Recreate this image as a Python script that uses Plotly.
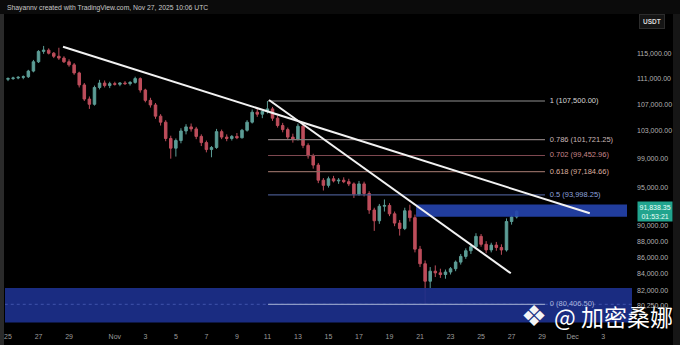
import math
import pandas as pd
import plotly.graph_objects as go

# ---------------- data (8-hour BTC/USDT candles from 2025-10-25 00:00 UTC) ----------------
candle_start = "2025-10-25 00:00"
opens = [
    110900, 111000, 111100, 111200, 111300, 112200, 113700, 115400, 115600,
    115100, 114600, 114300, 113700, 113200, 111900, 110000, 107800, 107000,
    109600, 110300, 109900, 110200, 110100, 110300, 110200, 110400, 111000,
    109200, 107600, 106900, 105200, 104300, 101900, 100500, 101600, 103000,
    103600, 103300, 102200, 101300, 100300, 100600, 102900, 102100, 101900,
    102200, 102000, 103100, 104300, 105800, 105500, 105900, 106300, 104900,
    103800, 103200, 102100, 101800, 103700, 100900, 99400, 98100, 96000,
    95300, 96200, 95900, 96000, 95800, 95500, 94100, 95500, 94200,
    92000, 90600, 92500, 92600, 91500, 90300, 89600, 91900, 91000,
    87000, 85200, 83100, 84300, 84100, 83900, 84200, 84600, 85400,
    86100, 86800, 87300, 88600, 87600, 86900, 87500, 87200, 86900,
    90500, 91100]
highs = [
    111200, 111300, 111400, 111500, 112400, 114000, 115600, 116300, 115900,
    115300, 116000, 114600, 114100, 113500, 112100, 110300, 108200, 109900,
    110800, 110700, 110500, 110500, 110400, 110600, 110600, 111300, 111200,
    109400, 108000, 107200, 105500, 104600, 102300, 101900, 103400, 104000,
    104100, 103600, 102500, 101600, 100800, 103300, 103200, 102500, 102400,
    102700, 103300, 104600, 106200, 106300, 106000, 107500, 106600, 105300,
    104200, 103500, 102600, 104100, 104000, 101200, 99700, 98400, 96300,
    96500, 96600, 96300, 96400, 96200, 95700, 95900, 95800, 94500,
    92300, 92800, 93400, 92900, 91800, 90700, 92300, 92700, 91400,
    87400, 85600, 84800, 85000, 84600, 84500, 84800, 85600, 86400,
    87100, 87700, 89000, 88900, 88000, 87800, 87900, 87600, 90900,
    91300, 91950]
lows = [
    110600, 110800, 110900, 110900, 111100, 112000, 113500, 115000, 114900,
    114300, 114000, 113500, 112900, 111600, 109600, 107500, 106300, 106800,
    109300, 109600, 109500, 109900, 109800, 110000, 109900, 110200, 108800,
    107300, 106500, 104800, 103800, 101500, 99000, 99300, 101200, 102500,
    102900, 101800, 100800, 99900, 99200, 100400, 101800, 101500, 101600,
    101800, 101900, 102900, 104100, 105100, 104900, 105600, 104500, 103500,
    102800, 101700, 101300, 101600, 100500, 99000, 97600, 95600, 94600,
    95000, 95700, 95500, 95600, 95200, 93600, 93900, 93800, 91500,
    89300, 90200, 91800, 91200, 89900, 88700, 89400, 90500, 86600,
    84800, 80450, 82300, 83600, 83500, 83400, 83900, 84300, 85100,
    85800, 86400, 87000, 87300, 86500, 86600, 86800, 86300, 86700,
    90100, 90900]
closes = [
    111000, 111100, 111200, 111300, 112200, 113700, 115400, 115600, 115100,
    114600, 114300, 113700, 113200, 111900, 110000, 107800, 107000, 109600,
    110300, 109900, 110200, 110100, 110300, 110200, 110400, 111000, 109200,
    107600, 106900, 105200, 104300, 101900, 100500, 101600, 103000, 103600,
    103300, 102200, 101300, 100300, 100600, 102900, 102100, 101900, 102200,
    102000, 103100, 104300, 105800, 105500, 105900, 106300, 104900, 103800,
    103200, 102100, 101800, 103700, 100900, 99400, 98100, 96000, 95300,
    96200, 95900, 96000, 95800, 95500, 94100, 95500, 94200, 92000,
    90600, 92500, 92600, 91500, 90300, 89600, 91900, 91000, 87000,
    85200, 83100, 84300, 84100, 83900, 84200, 84600, 85400, 86100,
    86800, 87300, 88600, 87600, 86900, 87500, 87200, 86900, 90500,
    91100, 91838.35]

last_price_text = "91,838.35"
countdown_text = "01:53:21"

# Fibonacci retracement
fib_ratios = ["1", "0.786", "0.702", "0.618", "0.5", "0"]
fib_prices = [107500.00, 101721.25, 99452.96, 97184.66, 93998.25, 80406.50]
fib_line_colors = ["#8f8f8f", "#857a7a", "#7e4850", "#8a665e", "#46568a", "#8d9ac6"]
fib_text_colors = ["#d6d6d6", "#c9b7b7", "#c8868a", "#dcae9f", "#8ea2dc", "#aab6de"]
fib_x_start = "2025-11-11 01:00"
fib_x_end = "2025-11-29 04:30"
fib_label_x = "2025-11-29 12:00"

# Trendlines (start/end date, price)
trend_long_x = ["2025-10-28 14:30", "2025-12-02 03:00"]
trend_long_y = [116170, 91570]
trend_steep_x = ["2025-11-11 02:30", "2025-11-26 22:45"]
trend_steep_y = [107660, 84050]

# Zones
zone_top_x = ["2025-11-20 17:45", "2025-12-04 13:30"]
zone_top_y = [91130, 92720]
zone_bot_x = ["2025-10-24 00:00", "2025-12-06 00:00"]
zone_bot_y = [78340, 82300]

# Axes
x_range = ["2025-10-24 19:17", "2025-12-04 21:22"]
y_range = [78175, 121731]
xtick_dates = ["2025-10-25", "2025-10-27", "2025-10-29", "2025-11-01", "2025-11-03",
               "2025-11-05", "2025-11-07", "2025-11-09", "2025-11-11", "2025-11-13",
               "2025-11-15", "2025-11-17", "2025-11-19", "2025-11-21", "2025-11-23",
               "2025-11-25", "2025-11-27", "2025-11-29", "2025-12-01", "2025-12-03"]
xtick_text = ["25", "27", "29", "Nov", "3", "5", "7", "9", "11", "13", "15", "17",
              "19", "21", "23", "25", "27", "29", "Dec", "3"]
ytick_vals = [115000, 111000, 107000, 103000, 99000, 95000, 90000, 88000, 86000,
              84000, 82000, 80250]
ytick_text = [f"{v:,.2f}" for v in ytick_vals]

header_text = "Shayannv created with TradingView.com, Nov 27, 2025 10:06 UTC"
watermark_text = "@ 加密桑娜"

# ---------------- figure ----------------
times = pd.date_range(candle_start, periods=len(opens), freq="8h")
FONT = "Liberation Sans, Arial, sans-serif"

fig = go.Figure()

# zones (behind candles)
for zx, zy, col in [(zone_bot_x, zone_bot_y, "rgba(28,48,140,0.92)"),
                    (zone_top_x, zone_top_y, "rgba(36,66,170,0.92)")]:
    fig.add_trace(go.Scatter(
        x=[zx[0], zx[1], zx[1], zx[0], zx[0]],
        y=[zy[0], zy[0], zy[1], zy[1], zy[0]],
        mode="lines", fill="toself", fillcolor=col,
        line=dict(width=0), hoverinfo="skip", showlegend=False))

# faint dotted line inside the bottom zone
fig.add_trace(go.Scatter(x=[zone_bot_x[0], zone_bot_x[1]], y=[fib_prices[-1], fib_prices[-1]],
                         mode="lines", line=dict(color="rgba(90,110,200,0.6)", width=1, dash="dot"),
                         hoverinfo="skip", showlegend=False))

# fib lines
for ratio, price, lc in zip(fib_ratios, fib_prices, fib_line_colors):
    fig.add_trace(go.Scatter(x=[fib_x_start, fib_x_end], y=[price, price], mode="lines",
                             line=dict(color=lc, width=1.2), hoverinfo="skip", showlegend=False))

# candles
fig.add_trace(go.Candlestick(
    x=times, open=opens, high=highs, low=lows, close=closes,
    increasing=dict(line=dict(color="#5c9d96", width=1), fillcolor="#5c9d96"),
    decreasing=dict(line=dict(color="#bd4d5b", width=1), fillcolor="#bd4d5b"),
    whiskerwidth=0, showlegend=False, hoverinfo="skip"))

# trendlines
for tx, ty in [(trend_long_x, trend_long_y), (trend_steep_x, trend_steep_y)]:
    fig.add_trace(go.Scatter(x=tx, y=ty, mode="lines", line=dict(color="#f2f2f2", width=2),
                             hoverinfo="skip", showlegend=False))

# fib labels
fig.add_trace(go.Scatter(
    x=[fib_label_x] * len(fib_prices), y=fib_prices, mode="text",
    text=[f"{r} ({p:,.2f})" for r, p in zip(fib_ratios, fib_prices)],
    textposition="middle right",
    textfont=dict(family=FONT, size=7.5, color=fib_text_colors),
    hoverinfo="skip", showlegend=False))

fig.update_layout(
    width=680, height=345, autosize=False,
    margin=dict(l=5, r=48, t=14, b=21, pad=0),
    paper_bgcolor="#000000", plot_bgcolor="#000000",
    font=dict(family=FONT, color="#a8a8a8", size=7),
    showlegend=False,
    xaxis=dict(type="date", range=x_range, showgrid=False, zeroline=False, showline=False,
               tickmode="array", tickvals=xtick_dates, ticktext=xtick_text, ticks="",
               ticklabelstandoff=7,
               tickfont=dict(size=7, color="#9c9c9c"), rangeslider=dict(visible=False),
               fixedrange=True),
    yaxis=dict(type="log", range=[math.log10(y_range[0]), math.log10(y_range[1])],
               side="right", showgrid=False, zeroline=False, showline=False,
               tickmode="array", tickvals=ytick_vals, ticktext=ytick_text, ticks="",
               ticklabelstandoff=4, tickfont=dict(size=7, color="#b2b2b2"), fixedrange=True),
)

# frame strips
fig.add_shape(type="rect", xref="paper", yref="paper", x0=-5 / 627, x1=-1 / 627,
              y0=-21 / 310, y1=1.0, fillcolor="#2a2a2a", line=dict(width=0), layer="above")
fig.add_shape(type="rect", xref="paper", yref="paper", x0=668 / 627, x1=675 / 627,
              y0=-21 / 310, y1=1.0, fillcolor="#161616", line=dict(width=0), layer="above")
fig.add_shape(type="rect", xref="paper", yref="paper", x0=-5 / 627, x1=675 / 627,
              y0=1.0, y1=1 + 14 / 310, fillcolor="#0b0b0b", line=dict(width=0), layer="below")

# header
fig.add_annotation(xref="paper", yref="paper", x=0, y=(324 - 8) / 310, xanchor="left",
                   yanchor="middle", text=header_text, showarrow=False,
                   font=dict(family=FONT, size=6.8, color="#c8c8c8"))
# USDT box
fig.add_annotation(xref="paper", yref="paper", x=(652 - 5) / 627, y=(324 - 22) / 310,
                   xanchor="center", yanchor="middle", text="<b>USDT</b>", showarrow=False,
                   bgcolor="#151515", bordercolor="#2c2c2c", borderwidth=1, borderpad=3,
                   font=dict(family=FONT, size=6.5, color="#d8d8d8"))
# last price tag
fig.add_annotation(xref="paper", yref="y", x=(637 - 5) / 627, y=math.log10(closes[-1]),
                   xanchor="left", yanchor="middle",
                   text=f"{last_price_text}<br>{countdown_text}", showarrow=False,
                   bgcolor="#21a48e", borderpad=1.5, align="center",
                   font=dict(family=FONT, size=7, color="#eafff9"))
# watermark
fig.add_annotation(xref="paper", yref="paper", x=(519 - 5) / 627, y=(324 - 316) / 310,
                   xanchor="left", yanchor="middle", text="❖", showarrow=False,
                   font=dict(family="DejaVu Sans", size=29, color="#f5f5f5"))
fig.add_annotation(xref="paper", yref="paper", x=(552 - 5) / 627, y=(324 - 316) / 310,
                   xanchor="left", yanchor="middle", text=watermark_text, showarrow=False,
                   font=dict(family="Noto Sans CJK SC", size=23, color="#ffffff"))

fig.write_html("out.html")
